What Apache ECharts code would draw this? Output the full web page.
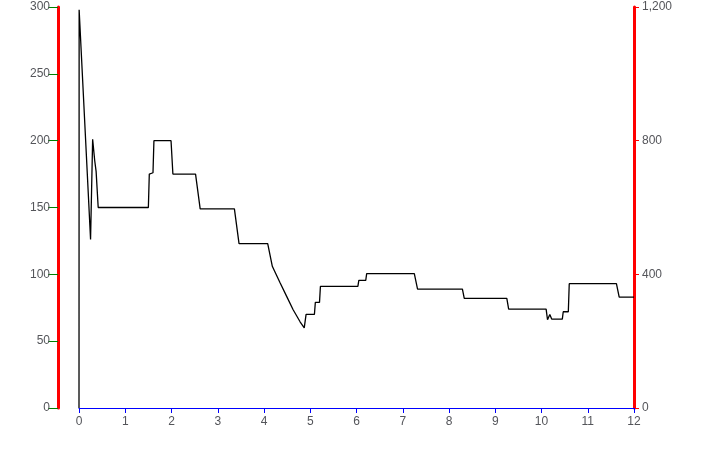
<!DOCTYPE html>
<html><head><meta charset="utf-8">
<script src="https://cdn.jsdelivr.net/npm/echarts@6.0.0/dist/echarts.min.js"></script>
<style>html,body{margin:0;padding:0;background:#fff}#c{width:701px;height:457px}</style>
</head><body><div id="c"></div>
<script>
const cpred = [[0,0],[0.003,298],[0.25,126],[0.295,201],[0.34,185],[0.37,177],[0.41,177],[0.415,150],[1.50,150],[1.52,175],[1.60,176],[1.62,200],[1.99,200],[2.03,175],[2.52,175],[2.62,149],[3.36,149],[3.46,123],[4.08,123],[4.18,106],[4.22,103],[4.35,93.5],[4.49,83.5],[4.63,73.5],[4.78,64.5],[4.87,60],[4.90,60],[4.91,70],[5.09,70],[5.11,79],[5.20,79],[5.22,91],[6.03,91],[6.05,95.5],[6.20,95.5],[6.22,100.5],[7.25,100.5],[7.32,89],[8.29,89],[8.33,82],[9.25,82],[9.29,74],[10.10,74],[10.13,66],[10.18,70],[10.22,66.5],[10.45,66.5],[10.47,72],[10.58,72],[10.60,93],[11.62,93],[11.68,83],[12,83]];
const chart = echarts.init(document.getElementById('c'));
chart.setOption({
  animation:false,
  grid:{left:79, right:67, top:7, bottom:49, outerBoundsMode:'none'},
  xAxis:{type:'value', min:0, max:12, interval:1, axisLine:{show:true,onZero:false,lineStyle:{color:'blue'}}, splitLine:{show:false}},
  yAxis:[{type:'value', offset:21, position:'left', min:0,max:300, interval:50, axisLine:{show:true,onZero:false,lineStyle:{color:'red',width:3}}, axisTick:{show:true,length:10,lineStyle:{color:'green'}}, splitLine:{show:false}},
  {type:'value', position:'right', min:0,max:1200, interval:400, axisLine:{show:true,onZero:false,lineStyle:{color:'red',width:3}}, axisTick:{show:true}, splitLine:{show:false}}],
  series:[{type:'line', yAxisIndex:0, data:cpred, symbol:'none', lineStyle:{color:'#000',width:1.3}}]
});
</script></body></html>
